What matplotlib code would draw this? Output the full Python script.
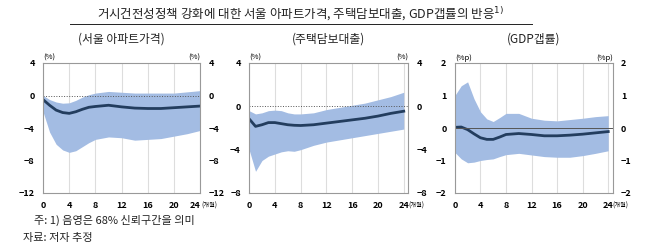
import numpy as np
import matplotlib.pyplot as plt
import matplotlib.transforms as mtransforms
from matplotlib.lines import Line2D

plt.rcParams['font.family'] = ['Noto Sans CJK KR', 'DejaVu Sans']

# data
months = [0, 1, 2, 3, 4, 5, 6, 7, 8, 10, 12, 14, 16, 18, 20, 22, 24]

apt_mid = [-0.5, -1.2, -1.8, -2.1, -2.2, -2.0, -1.7, -1.45, -1.35, -1.2, -1.4, -1.55, -1.6, -1.6, -1.5, -1.4, -1.3]
apt_hi = [0.0, -0.5, -0.8, -0.95, -0.9, -0.6, -0.2, 0.1, 0.3, 0.5, 0.4, 0.3, 0.3, 0.3, 0.3, 0.45, 0.6]
apt_lo = [-2.0, -4.5, -6.0, -6.7, -7.0, -6.8, -6.3, -5.8, -5.4, -5.1, -5.2, -5.5, -5.4, -5.3, -5.0, -4.7, -4.3]

loan_mid = [-1.15, -1.85, -1.7, -1.5, -1.5, -1.6, -1.7, -1.75, -1.77, -1.7, -1.55, -1.4, -1.25, -1.1, -0.9, -0.65, -0.45]
loan_hi = [-0.4, -0.7, -0.6, -0.4, -0.35, -0.4, -0.6, -0.7, -0.7, -0.6, -0.3, -0.1, 0.1, 0.3, 0.6, 0.9, 1.3]
loan_lo = [-4.0, -6.0, -5.0, -4.6, -4.4, -4.2, -4.1, -4.15, -4.0, -3.6, -3.3, -3.1, -2.9, -2.7, -2.5, -2.3, -2.1]

gdp_mid = [0.02, 0.03, -0.05, -0.18, -0.3, -0.35, -0.35, -0.28, -0.2, -0.17, -0.2, -0.24, -0.24, -0.22, -0.19, -0.15, -0.11]
gdp_hi = [1.0, 1.3, 1.42, 0.9, 0.5, 0.28, 0.2, 0.32, 0.45, 0.45, 0.3, 0.24, 0.22, 0.26, 0.3, 0.35, 0.38]
gdp_lo = [-0.75, -0.95, -1.07, -1.05, -1.0, -0.97, -0.95, -0.88, -0.82, -0.78, -0.83, -0.88, -0.9, -0.9, -0.85, -0.78, -0.7]

xticks = [0, 4, 8, 12, 16, 20, 24]

panels = [
    ("(서울 아파트가격)", apt_mid, apt_hi, apt_lo, [-12, -8, -4, 0, 4], "(%)", 24.0, ':'),
    ("(주택담보대출)", loan_mid, loan_hi, loan_lo, [-8, -4, 0, 4], "(%)", 24.7, ':'),
    ("(GDP갭률)", gdp_mid, gdp_hi, gdp_lo, [-2, -1, 0, 1, 2], "(%p)", 24.7, '-'),
]
lefts = [0.0665, 0.385, 0.703]
widths = [0.243, 0.246, 0.244]

fig = plt.figure(figsize=(6.47, 2.5), dpi=100)

band_col = '#a3bce3'
line_col = '#233d5e'

for (name, mid, hi, lo, yt, unit, xmax, zstyle), l, w in zip(panels, lefts, widths):
    ax = fig.add_axes([l, 0.228, w, 0.52])
    ax.fill_between(months, lo, hi, color=band_col, linewidth=0)
    ax.plot(months, mid, color=line_col, linewidth=2.0)
    ax.axhline(0, color='#555555', linewidth=0.7, linestyle=zstyle)
    ax.set_xlim(0, xmax)
    ax.set_ylim(yt[0], yt[-1])
    ax.set_xticks(xticks)
    ax.set_yticks(yt)
    ax.grid(axis='x', color='#dddddd', linewidth=0.8)
    ax.set_axisbelow(True)
    ax.tick_params(length=0, labelsize=6.5, pad=6, labelright=True)
    for lab in ax.get_xticklabels() + ax.get_yticklabels():
        lab.set_fontweight('bold')
    xl = ax.get_xticklabels()
    if xmax <= 24:
        xl[-1].set_horizontalalignment('right')
        xl[-1].set_x(24)
    for sp in ax.spines.values():
        sp.set_color('#999999')
        sp.set_linewidth(0.8)
    ax.text(0.0, 1.01, unit, transform=ax.transAxes, fontsize=5.5, ha='left', va='bottom')
    ax.text(1.0, 1.01, unit, transform=ax.transAxes, fontsize=5.5, ha='right', va='bottom')
    off = mtransforms.ScaledTranslation(4.5 / 100 if xmax > 24 else 1 / 100, -6 / 72, fig.dpi_scale_trans)
    ax.text(24, yt[0], "(개월)", fontsize=4.5, ha='left', va='top',
            transform=ax.transData + off)
    fig.text(l + w / 2, 0.845, name, fontsize=8.5, ha='center', va='center', color='#222222',
             fontweight='medium')

fig.text(0.465, 0.945, "거시건전성정책 강화에 대한 서울 아파트가격, 주택담보대출, GDP갭률의 반응$^{1)}$",
         fontsize=9, ha='center', va='center', color='#222222', fontweight='medium')
fig.add_artist(Line2D([0.108, 0.822], [0.905, 0.905], color='#222222', linewidth=0.7))

fig.text(0.052, 0.12, "주: 1) 음영은 68% 신뢰구간을 의미", fontsize=8, ha='left', va='center', color='#222222')
fig.text(0.036, 0.05, "자료: 저자 추정", fontsize=8, ha='left', va='center', color='#222222')

fig.savefig("out.png", dpi=100)
